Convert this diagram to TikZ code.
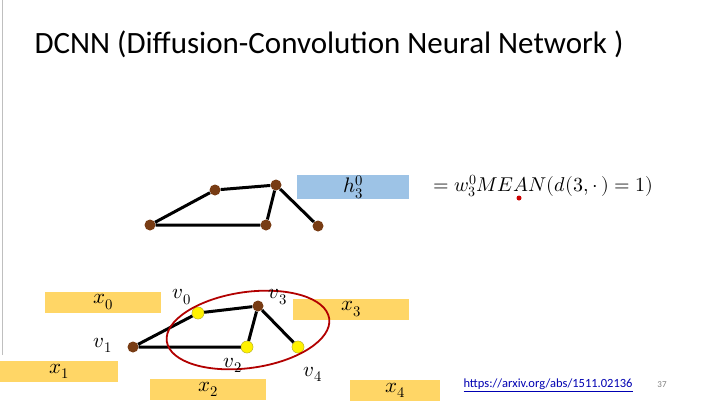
\documentclass[tikz,border=0pt]{standalone}
\usepackage{fontspec}
\setmainfont{Carlito}
\usepackage{unicode-math}
\setmathfont{Latin Modern Math}
\definecolor{ybox}{RGB}{255,214,102}
\definecolor{bbox}{RGB}{157,195,230}
\definecolor{bnode}{RGB}{120,60,20}
\begin{document}
\begin{tikzpicture}[x=1pt,y=-1pt,
  bn/.style={circle,fill=bnode,inner sep=0,minimum size=11},
  yn/.style={circle,fill=yellow,draw=yellow!70!black,inner sep=0,minimum size=12},
  ed/.style={line width=3pt},
  xbox/.style={fill=ybox,minimum width=116,minimum height=21,inner sep=0,font=\fontsize{21}{21}\selectfont},
  lab/.style={font=\fontsize{21}{21}\selectfont}]
\useasboundingbox[fill=white] (0,0) rectangle (720,405);
\draw[gray!50] (2,0) -- (2,355);
\node[anchor=west,font=\fontsize{31}{31}\selectfont] (t) at (31,44) {DCNN (Diffusion-Convolution Neural Network )};
% top graph
\node[bn] (a) at (150,225) {};
\node[bn] (b) at (215,190) {};
\node[bn] (c) at (276,185) {};
\node[bn] (d) at (266,225) {};
\node[bn] (e) at (318,226) {};
\draw[ed] (a)--(b) (b)--(c) (c)--(d) (a)--(d) (c)--(e);
\node[fill=bbox,minimum width=112,minimum height=23,inner sep=0,font=\fontsize{21}{21}\selectfont] (h) at (353,187) {$h_3^0$};
\node[anchor=west,font=\fontsize{20}{20}\selectfont] (eq) at (430,186) {$=w_3^0 MEAN(d(3,\cdot\,)=1)$};
\node[circle,fill=red!80!black,inner sep=0,minimum size=5] (ptr) at (519,198) {};
% boxes
\node[xbox] (x0) at (103,302) {$x_0$};
\node[xbox] (x3) at (351,309) {$x_3$};
\node[xbox,minimum width=118] (x1) at (59,371) {$x_1$};
\node[xbox] (x2) at (208,389) {$x_2$};
\node[xbox,minimum width=90] (x4) at (395,390) {$x_4$};
% bottom graph
\node[bn] (v1) at (133,347) {};
\node[yn] (v0) at (198,313) {};
\node[bn] (v3) at (258,306) {};
\node[yn] (v2) at (247,347) {};
\node[yn] (v4) at (298,347) {};
\draw[ed] (v1)--(v0) (v0)--(v3) (v3)--(v2) (v1)--(v2) (v3)--(v4);
\node[yn] at (v0) {};\node[yn] at (v2) {};\node[yn] at (v4) {};
\draw[red!70!black,line width=1.8pt,rotate around={8:(248,330)}] (248,330) ellipse [x radius=82,y radius=38];
\node[lab] (l0) at (182,297) {$v_0$};
\node[lab] (l3) at (278,297) {$v_3$};
\node[lab] (l1) at (103,345) {$v_1$};
\node[lab] (l2) at (233,365) {$v_2$};
\node[lab] (l4) at (313,374) {$v_4$};
\node[anchor=west,text=blue!70!black,font=\fontsize{12.5}{12.5}\selectfont] (url) at (460,385) {\underline{https://arxiv.org/abs/1511.02136}};
\node[text=gray,font=\fontsize{9}{9}\selectfont] (pg) at (662,385) {37};
\end{tikzpicture}
\end{document}
